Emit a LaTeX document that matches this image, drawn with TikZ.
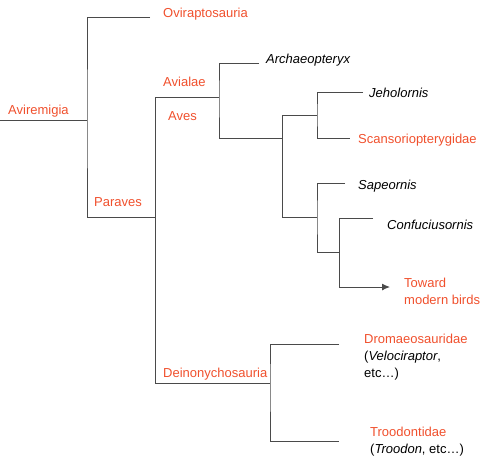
\documentclass[tikz,border=0pt]{standalone}
\usepackage{fontspec}
\setmainfont{Liberation Sans}
\usetikzlibrary{arrows.meta}
\definecolor{clade}{HTML}{F0502D}
\definecolor{branch}{HTML}{4A4A4A}
\tikzset{
  lbl/.style={anchor=base west, inner sep=0pt, font=\fontsize{13}{17}\selectfont, align=left},
  red/.style={lbl, text=clade},
  blk/.style={lbl, text=black},
  br/.style={draw=branch, line width=1pt},
}
\begin{document}
\begin{tikzpicture}[x=1pt,y=-1pt]
\useasboundingbox (0,0) rectangle (500,459);
% branch points
\coordinate (r0) at (0,120);
\coordinate (avi) at (87,120);
\coordinate (oviE) at (150,17);
\coordinate (parE) at (155,217);
\coordinate (avlS) at (155,97);
\coordinate (avl) at (219,97);
\coordinate (dnyS) at (155,383);
\coordinate (dny) at (270,383);
\coordinate (archE) at (259,63);
\coordinate (n2) at (282,138);
\coordinate (n3S) at (282,115);
\coordinate (n3) at (317,115);
\coordinate (jehE) at (363,92);
\coordinate (scaE) at (350,138);
\coordinate (n4S) at (282,217);
\coordinate (n4) at (317,217);
\coordinate (sapE) at (345,183);
\coordinate (n5S) at (317,252);
\coordinate (n5) at (339,252);
\coordinate (conE) at (373,218);
\coordinate (modE) at (390,287);
\coordinate (droE) at (339,344);
\coordinate (troE) at (339,441);
% labels
\node[red] (laviremigia) at (8,114) {Aviremigia};
\node[red] (lovi) at (163,17) {Oviraptosauria};
\node[red] (lavialae) at (163,86) {Avialae};
\node[red] (laves) at (168,120) {Aves};
\node[red] (lparaves) at (94,206) {Paraves};
\node[blk] (larch) at (266,63) {\itshape Archaeopteryx};
\node[blk] (ljeh) at (369,97) {\itshape Jeholornis};
\node[red] (lsca) at (358,143) {Scansoriopterygidae};
\node[blk] (lsap) at (358,189) {\itshape Sapeornis};
\node[blk] (lcon) at (387,229) {\itshape Confuciusornis};
\node[red] (lmod) at (404,304) {Toward\\modern birds};
\node[red] (ldny) at (163,377) {Deinonychosauria};
\node[lbl] (ldro) at (364,377) {\textcolor{clade}{Dromaeosauridae}\\(\textit{Velociraptor},\\etc\dots)};
\node[lbl] (ltro) at (370,453) {\textcolor{clade}{Troodontidae}\\(\textit{Troodon}, etc\dots)};
% branches
\draw[br] (r0) -- (avi);
\draw[br] (oviE) -| (avi) |- (parE);
\draw[br] (avlS) -- (avl);
\draw[br] (avlS) |- (dny);
\draw[br] (archE) -| (avl) |- (n2);
\draw[br] (n3S) -- (n3);
\draw[br] (n3S) |- (n4);
\draw[br] (jehE) -| (n3) |- (scaE);
\draw[br] (sapE) -| (n4) |- (n5);
\draw[br] (conE) -| (n5);
\draw[br, -{Latex[length=8pt,width=7pt]}] (n5) |- (modE);
\draw[br] (droE) -| (dny) |- (troE);
\end{tikzpicture}
\end{document}
